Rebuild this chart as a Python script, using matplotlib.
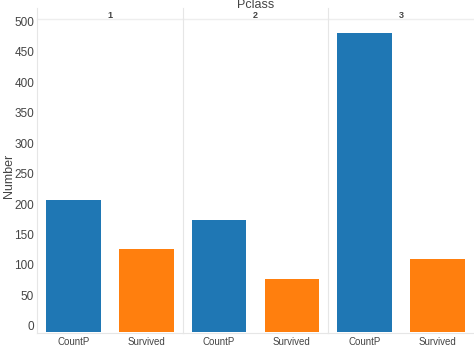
import matplotlib.pyplot as plt
from matplotlib.lines import Line2D
import matplotlib.transforms as mtransforms

plt.rcParams['font.family'] = ['Liberation Sans', 'DejaVu Sans']

pclass = ['1', '2', '3']
categories = ['CountP', 'Survived']
count_p = [216, 184, 491]
survived = [136, 87, 119]
colors = ['#1f77b4', '#ff7f0e']

W, H = 474, 346
fig = plt.figure(figsize=(W / 100, H / 100), dpi=100)
left, right = 37 / W, 1.0
bottom, top = 1 - 333 / H, 1 - 19 / H
pw = (right - left) / 3

grid_c = '#e6e6e6'
axes = []
for i, pc in enumerate(pclass):
    ax = fig.add_axes([left + i * pw, bottom, pw, top - bottom])
    vals = [count_p[i], survived[i]]
    ax.bar(range(2), vals, width=0.75, color=colors)
    ax.set_xlim(-0.5, 1.5)
    ax.set_ylim(-2, 514)
    ax.set_xticks(range(2))
    ax.set_xticklabels(categories, fontsize=7, color='#444444')
    ax.tick_params(axis='x', length=0, pad=3)
    for s in ['top', 'right']:
        ax.spines[s].set_visible(False)
    ax.spines['left'].set_color(grid_c)
    ax.spines['bottom'].set_color(grid_c)
    ax.spines['left'].set_linewidth(0.8)
    ax.spines['bottom'].set_linewidth(0.8)
    if i == 0:
        ax.set_yticks(range(0, 501, 50))
        ax.tick_params(axis='y', length=0, pad=2, labelsize=8.5, labelcolor='#444444')
        off = mtransforms.ScaledTranslation(0, 6 / 100, fig.dpi_scale_trans)
        for lab in ax.get_yticklabels():
            lab.set_transform(lab.get_transform() + off)
    else:
        ax.set_yticks([])
    # facet header
    ax.text(0.5, (346 - 15) / H, pc, transform=mtransforms.blended_transform_factory(ax.transAxes, fig.transFigure),
            ha='center', va='center', fontsize=6.5, fontweight='bold', color='#444444')
    axes.append(ax)

fig.text(9 / W, (top + bottom) / 2, 'Number', rotation=90, ha='center', va='center',
         fontsize=9, color='#444444')

# header strip lines
fig.add_artist(Line2D([left, right], [top, top], color='#eeeeee', lw=1.0, transform=fig.transFigure))
for i in range(3):
    x = left + i * pw
    fig.add_artist(Line2D([x, x], [top, 1 - 8 / H], color=grid_c, lw=0.8, transform=fig.transFigure))

fig.text((left + right) / 2, 1 - 7.5 / H, 'Pclass', ha='center', va='baseline', fontsize=9, color='#444444')

fig.savefig('out.png', dpi=100)
